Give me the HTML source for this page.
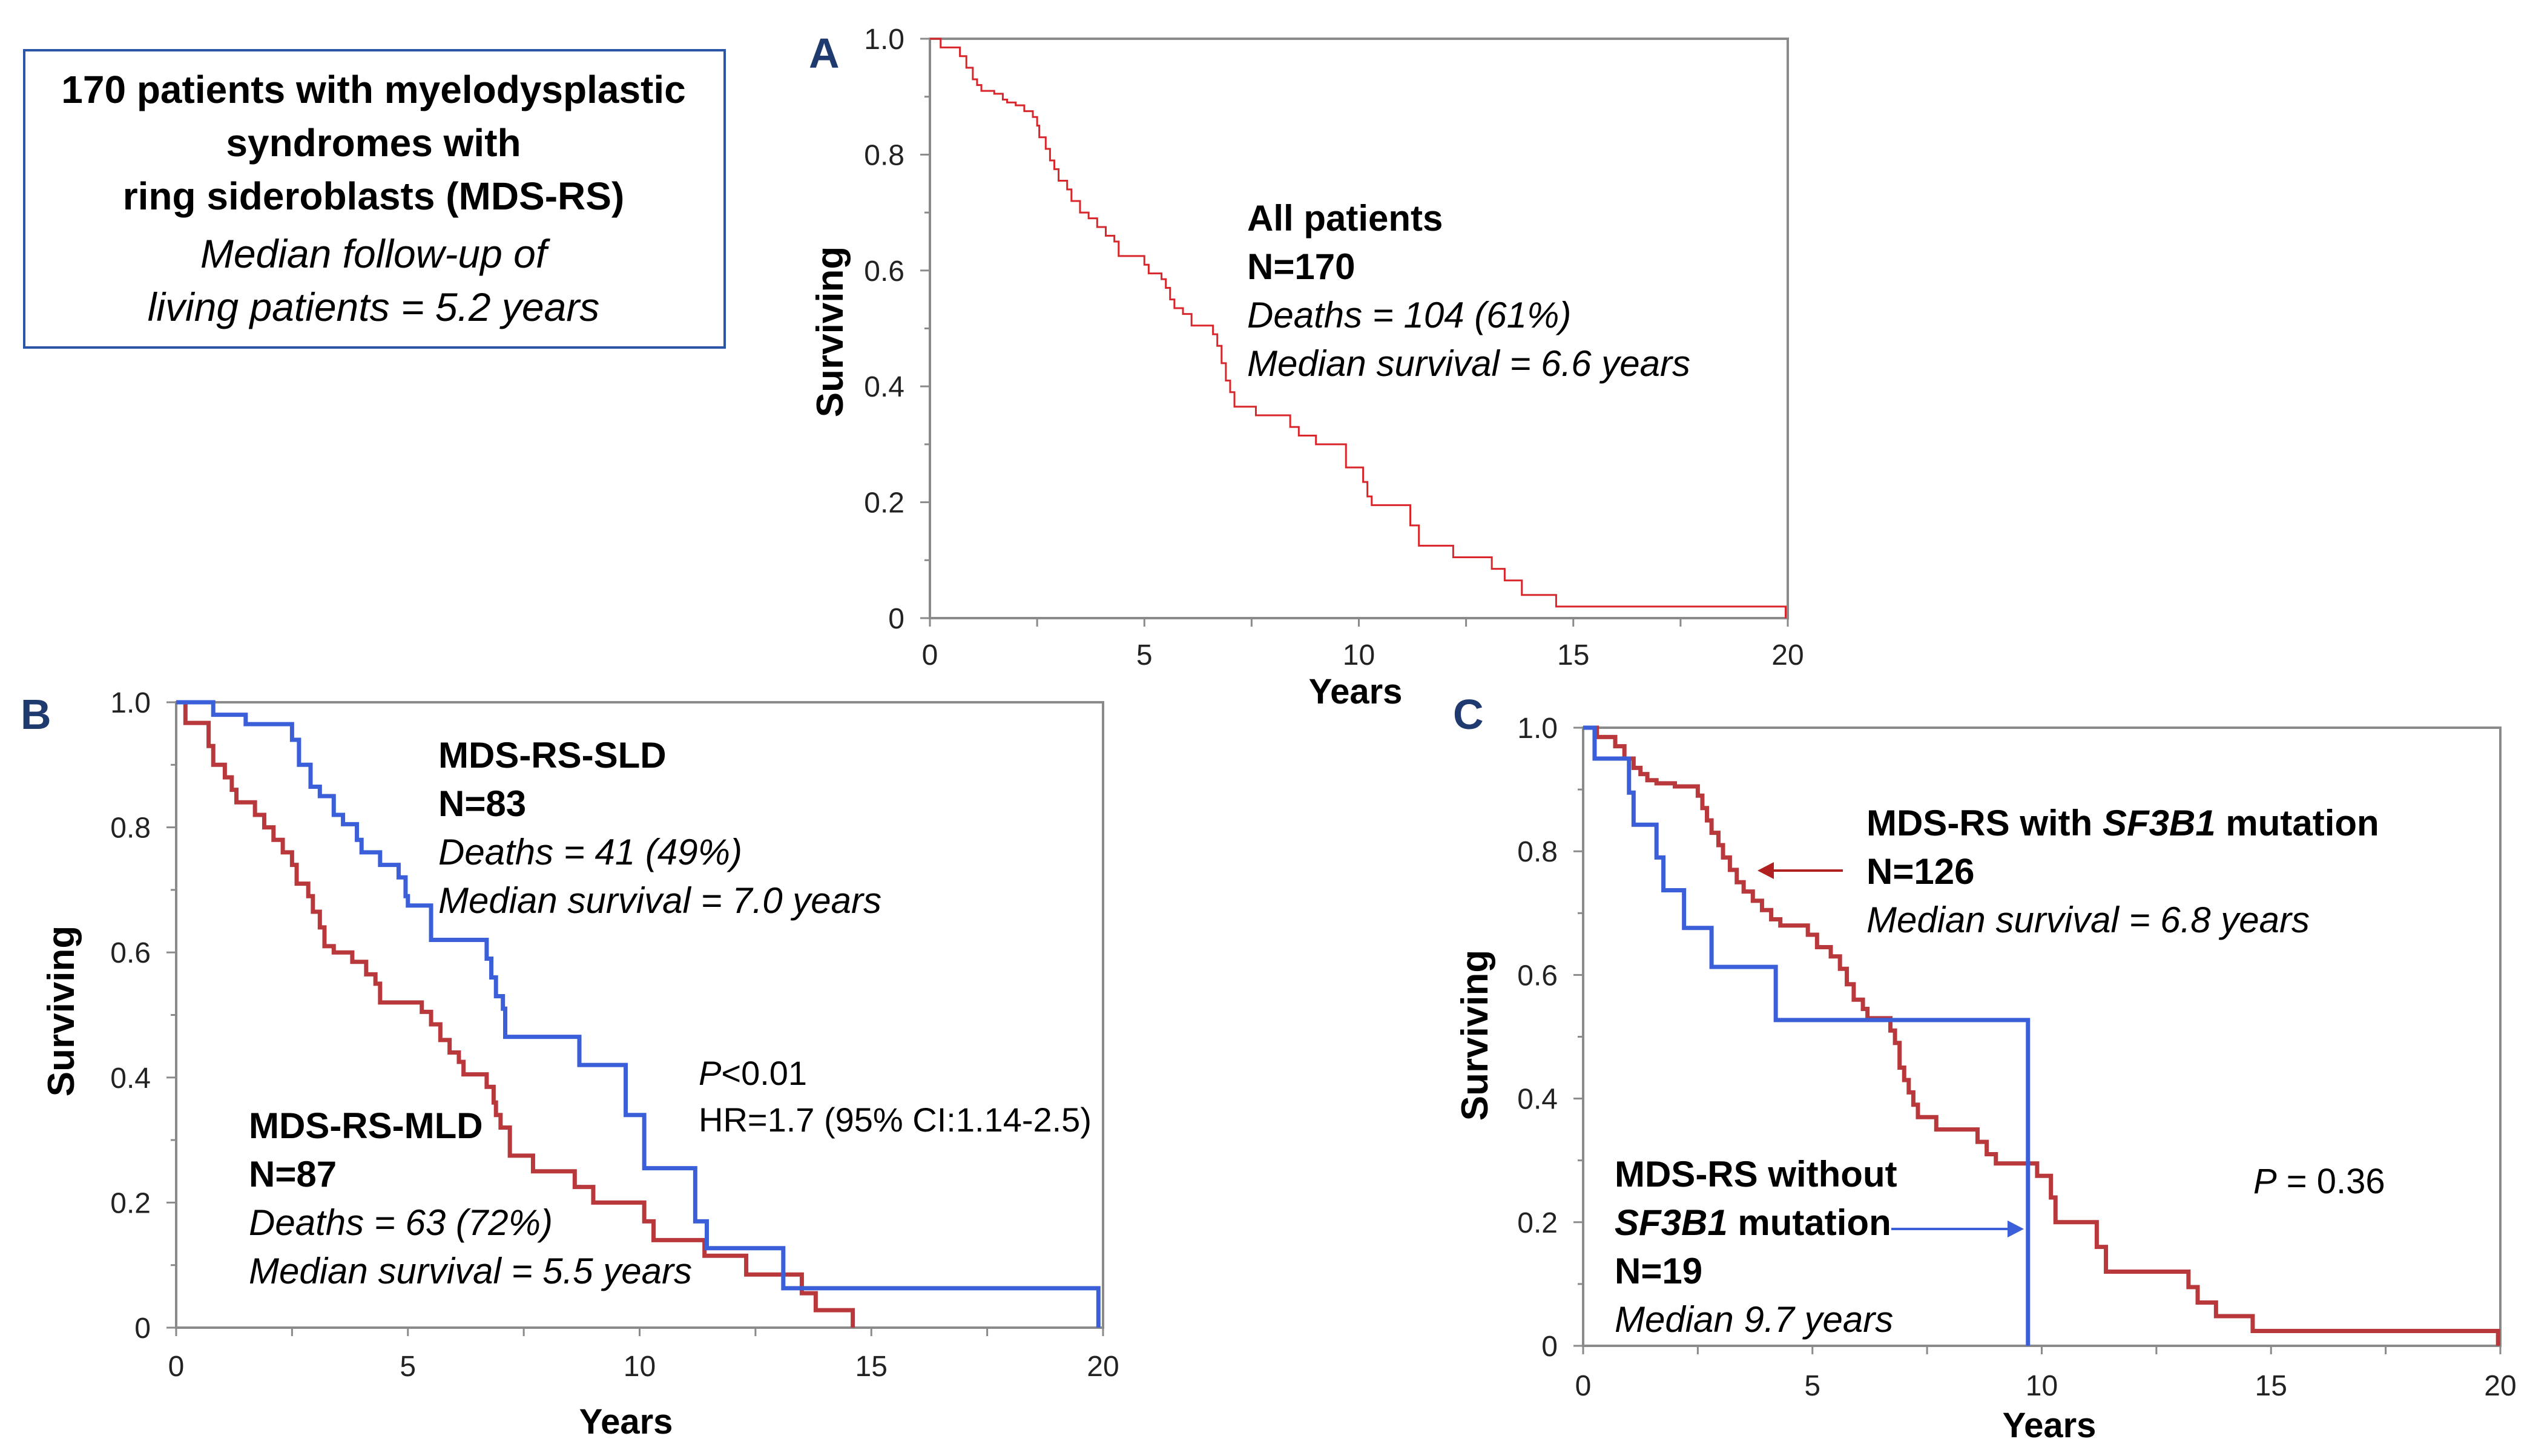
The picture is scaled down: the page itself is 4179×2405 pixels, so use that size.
<!DOCTYPE html>
<html><head><meta charset="utf-8"><style>
html,body{margin:0;padding:0;background:#fff;}
svg{display:block;font-family:"Liberation Sans",sans-serif;}
</style></head><body>
<svg id="fig" width="4179" height="2405" viewBox="0 0 4179 2405" xmlns="http://www.w3.org/2000/svg">
<rect x="0" y="0" width="4179" height="2405" fill="#fff"/>
<g>
<rect x="40" y="83" width="1157" height="491" fill="#fff" stroke="#2b55a6" stroke-width="4"/>
<text x="617" y="170" text-anchor="middle" font-size="64" font-weight="bold">170 patients with myelodysplastic</text>
<text x="617" y="258" text-anchor="middle" font-size="64" font-weight="bold">syndromes with</text>
<text x="617" y="346" text-anchor="middle" font-size="64" font-weight="bold">ring sideroblasts (MDS-RS)</text>
<text x="617" y="442" text-anchor="middle" font-size="66" font-style="italic">Median follow-up of</text>
<text x="617" y="530" text-anchor="middle" font-size="66" font-style="italic">living patients = 5.2 years</text>
</g>
<g id="pA"></g>
<g id="pB"></g>
<g id="pC"></g>
</svg>
<script>
// Panel A: all patients
const aTimes = [0,0.25,0.7,0.85,1.0,1.1,1.2,1.5,1.7,1.8,2.0,2.2,2.4,2.5,2.55,2.7,2.8,2.9,3.0,3.2,3.3,3.5,3.7,3.9,4.1,4.3,4.4,5.0,5.1,5.4,5.5,5.6,5.7,5.9,6.1,6.6,6.7,6.8,6.9,7.0,7.1,7.6,8.4,8.6,9.0,9.7,10.1,10.2,10.3,11.2,11.4,12.2,13.1,13.4,13.8,14.6,19.95];
const aSurv = [1,0.985,0.97,0.95,0.93,0.92,0.91,0.905,0.895,0.89,0.885,0.875,0.865,0.85,0.83,0.81,0.79,0.775,0.755,0.74,0.72,0.7,0.69,0.675,0.66,0.65,0.625,0.61,0.595,0.585,0.57,0.55,0.535,0.525,0.505,0.49,0.47,0.44,0.41,0.39,0.365,0.35,0.33,0.315,0.3,0.26,0.235,0.21,0.195,0.16,0.125,0.105,0.085,0.065,0.04,0.02,0];
// Panel B
const bSldTimes = [0,0.8,1.5,2.5,2.65,2.9,3.1,3.4,3.6,3.9,4.0,4.4,4.8,4.95,5.0,5.5,6.7,6.8,6.9,7.05,7.1,8.7,9.7,10.1,11.2,11.45,13.1,19.9];
const bSldSurv = [1,0.98,0.965,0.94,0.9,0.865,0.85,0.82,0.805,0.78,0.76,0.74,0.72,0.69,0.675,0.62,0.59,0.56,0.53,0.51,0.465,0.42,0.34,0.255,0.17,0.127,0.063,0];
const bMldTimes = [0,0.2,0.7,0.8,1.05,1.2,1.3,1.7,1.9,2.1,2.3,2.5,2.6,2.85,2.95,3.1,3.2,3.4,3.8,4.1,4.3,4.4,5.3,5.5,5.7,5.9,6.1,6.2,6.7,6.85,6.9,7.0,7.2,7.7,8.6,9.0,10.1,10.3,11.4,12.3,13.5,13.8,14.6];
const bMldSurv = [1,0.967,0.93,0.9,0.88,0.86,0.84,0.82,0.8,0.78,0.76,0.74,0.71,0.69,0.665,0.64,0.61,0.6,0.585,0.565,0.55,0.52,0.505,0.485,0.46,0.44,0.425,0.405,0.385,0.36,0.34,0.32,0.275,0.25,0.225,0.2,0.17,0.14,0.115,0.085,0.055,0.028,0];
// Panel C
const cWoTimes = [0,0.25,1.0,1.1,1.6,1.75,2.2,2.8,4.2,9.7];
const cWoSurv = [1,0.95,0.895,0.843,0.79,0.737,0.676,0.613,0.527,0];
const cWTimes = [0,0.3,0.7,0.9,1.1,1.25,1.4,1.6,2.0,2.5,2.6,2.7,2.8,2.95,3.05,3.2,3.35,3.5,3.7,3.9,4.1,4.3,4.9,5.1,5.4,5.6,5.75,5.9,6.1,6.2,6.7,6.8,6.9,7.0,7.1,7.2,7.3,7.7,8.6,8.8,9.0,9.9,10.2,10.3,11.2,11.4,13.2,13.4,13.8,14.6,19.95];
const cWSurv = [1,0.985,0.97,0.95,0.935,0.925,0.915,0.91,0.905,0.89,0.87,0.85,0.83,0.81,0.79,0.77,0.75,0.735,0.72,0.705,0.69,0.68,0.665,0.645,0.63,0.61,0.585,0.56,0.545,0.53,0.51,0.49,0.45,0.43,0.41,0.39,0.37,0.35,0.33,0.31,0.295,0.275,0.24,0.2,0.16,0.12,0.095,0.07,0.048,0.024,0];
const xTicks = [0,5,10,15,20];
const xTickLabels = ["0","5","10","15","20"];
const yTicks = [0,0.2,0.4,0.6,0.8,1.0];
const yTickLabels = ["0","0.2","0.4","0.6","0.8","1.0"];

const NS = "http://www.w3.org/2000/svg";
function mk(parent, tag, attrs, text){
  const e = document.createElementNS(NS, tag);
  for (const k in attrs) e.setAttribute(k, attrs[k]);
  if (text !== undefined) e.textContent = text;
  parent.appendChild(e);
  return e;
}
function axes(g, P){
  const sx = v => P.x0 + (v/20)*(P.x1-P.x0);
  const sy = v => P.y0 - v*(P.y0-P.y1);
  const frame = mk(g,'rect',{x:P.x0,y:P.y1,width:P.x1-P.x0,height:P.y0-P.y1,fill:'none',stroke:'#8a8a8a','stroke-width':4});
  
  
  for (let v=0; v<=1.0001; v+=0.1){
    const major = Math.abs(v*5-Math.round(v*5))<1e-6;
    mk(g,'line',{x1:P.x0-(major?16:9),x2:P.x0,y1:sy(v),y2:sy(v),stroke:'#8a8a8a','stroke-width':3});
  }
  for (let v=0; v<=20.001; v+=2.5){
    mk(g,'line',{x1:sx(v),x2:sx(v),y1:P.y0,y2:P.y0+14,stroke:'#8a8a8a','stroke-width':3});
  }
  yTicks.forEach((v,i)=>{
    const t = mk(g,'text',{x:P.x0-42,y:sy(v)+17,'text-anchor':'end','font-size':48,fill:'#222'}, yTickLabels[i]);
    
    
  });
  xTicks.forEach((v,i)=>{
    const t = mk(g,'text',{x:sx(v),y:P.xl+4,'text-anchor':'middle','font-size':48,fill:'#222'}, xTickLabels[i]);
    
    
  });
  const yt = mk(g,'text',{x:0,y:0,transform:`translate(${P.ytx},${P.yty}) rotate(-90)`,'text-anchor':'middle','font-size':62,'font-weight':'bold'},'Surviving');
  
  
  const xt = mk(g,'text',{x:P.xtx,y:P.xty,'text-anchor':'middle','font-size':58,'font-weight':'bold'},'Years');
  
  
  const pl = mk(g,'text',{x:P.lx,y:P.ly,'font-size':70,'font-weight':'bold',fill:'#1f3a6e'},P.letter);
  
  
  return {sx, sy};
}
function km(g, S, times, surv, color, w, name){
  let d = `M${S.sx(times[0])},${S.sy(surv[0])}`;
  for (let i=1;i<times.length;i++){
    d += ` H${S.sx(times[i])} V${S.sy(surv[i])}`;
  }
  const p = mk(g,'path',{d:d,fill:'none',stroke:color,'stroke-width':w,'stroke-linejoin':'miter'});
  
  
}
function txt(g, x, y, s, opts, name){
  const t = mk(g,'text',Object.assign({x:x,y:y,'font-size':60},opts||{}));
  t.innerHTML = s;
  
  
}
// Panel A
const gA = document.getElementById('pA');
const SA = axes(gA,{x0:1536,x1:2953,y0:1021,y1:64,xl:1094,ytx:1392,yty:548,xtx:2239,xty:1162,lx:1336,ly:112,letter:'A'});
km(gA,SA,aTimes,aSurv,'#d8262b',3,'km-curve-all-patients');
txt(gA,2060,381,'All patients',{'font-weight':'bold'},'label-all-patients');
txt(gA,2060,461,'N=170',{'font-weight':'bold'},'label-n-170');
txt(gA,2060,541,'Deaths = 104 (61%)',{'font-style':'italic'},'label-deaths-a');
txt(gA,2060,621,'Median survival = 6.6 years',{'font-style':'italic'},'label-median-a');
// Panel B
const gB = document.getElementById('pB');
const SB = axes(gB,{x0:291,x1:1822,y0:2193,y1:1160,xl:2269,ytx:122,yty:1670,xtx:1034,xty:2368,lx:34,ly:1204,letter:'B'});
km(gB,SB,bMldTimes,bMldSurv,'#b8383c',7,'km-curve-mld');
km(gB,SB,bSldTimes,bSldSurv,'#3a5fd9',7,'km-curve-sld');
txt(gB,724,1268,'MDS-RS-SLD',{'font-weight':'bold'},'label-sld');
txt(gB,724,1348,'N=83',{'font-weight':'bold'},'label-n-83');
txt(gB,724,1428,'Deaths = 41 (49%)',{'font-style':'italic'},'label-deaths-sld');
txt(gB,724,1508,'Median survival = 7.0 years',{'font-style':'italic'},'label-median-sld');
txt(gB,411,1880,'MDS-RS-MLD',{'font-weight':'bold'},'label-mld');
txt(gB,411,1960,'N=87',{'font-weight':'bold'},'label-n-87');
txt(gB,411,2040,'Deaths = 63 (72%)',{'font-style':'italic'},'label-deaths-mld');
txt(gB,411,2120,'Median survival = 5.5 years',{'font-style':'italic'},'label-median-mld');
txt(gB,1154,1792,'<tspan font-style="italic">P</tspan>&lt;0.01',{'font-size':56},'label-p-value-b');
txt(gB,1154,1869,'HR=1.7 (95% CI:1.14-2.5)',{'font-size':56},'label-hazard-ratio');
// Panel C
const gC = document.getElementById('pC');
const SC = axes(gC,{x0:2615,x1:4130,y0:2223,y1:1202,xl:2301,ytx:2457,yty:1710,xtx:3385,xty:2374,lx:2400,ly:1204,letter:'C'});
km(gC,SC,cWTimes,cWSurv,'#b8383c',7,'km-curve-with-sf3b1');
km(gC,SC,cWoTimes,cWoSurv,'#3a5fd9',7,'km-curve-without-sf3b1');
txt(gC,3083,1380,'MDS-RS with <tspan font-style="italic">SF3B1</tspan> mutation',{'font-weight':'bold'},'label-with-sf3b1');
txt(gC,3083,1460,'N=126',{'font-weight':'bold'},'label-n-126');
txt(gC,3083,1540,'Median survival = 6.8 years',{'font-style':'italic'},'label-median-with');
txt(gC,2667,1960,'MDS-RS without',{'font-weight':'bold'},'label-without-sf3b1');
txt(gC,2667,2040,'<tspan font-style="italic">SF3B1</tspan> mutation',{'font-weight':'bold'},'label-without-sf3b1-2');
txt(gC,2667,2120,'N=19',{'font-weight':'bold'},'label-n-19');
txt(gC,2667,2200,'Median 9.7 years',{'font-style':'italic'},'label-median-without');
txt(gC,3722,1971,'<tspan font-style="italic">P</tspan> = 0.36',{'font-size':58},'label-p-value-c');
const a1 = mk(gC,'line',{x1:3044,y1:1438,x2:2925,y2:1438,stroke:'#b02020','stroke-width':4});


mk(gC,'polygon',{points:'2903,1438 2930,1424 2930,1452',fill:'#b02020'});
const a2 = mk(gC,'line',{x1:3124,y1:2030,x2:3320,y2:2030,stroke:'#3a5fd9','stroke-width':4});


mk(gC,'polygon',{points:'3343,2030 3316,2016 3316,2044',fill:'#3a5fd9'});
</script>
</body></html>
